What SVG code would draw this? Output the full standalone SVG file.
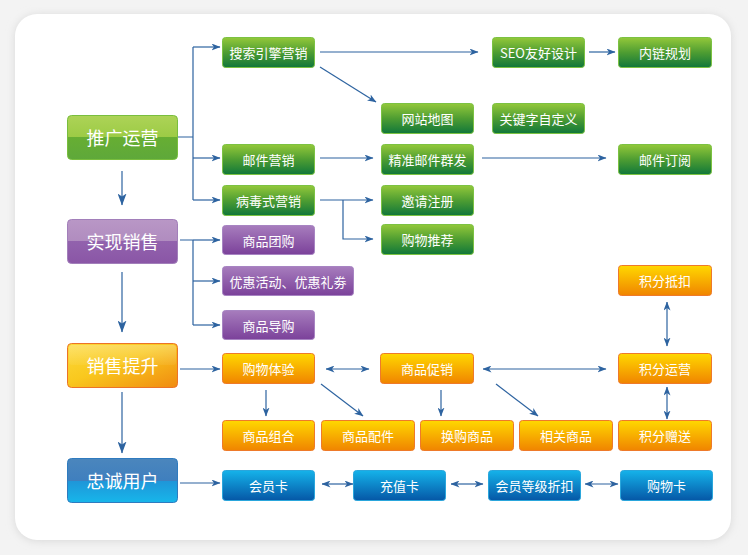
<svg xmlns="http://www.w3.org/2000/svg" width="748" height="555" viewBox="0 0 748 555">
<defs>
<style>
.t{font-family:"Noto Sans CJK SC","Noto Sans",sans-serif;fill:#fff;text-anchor:middle;dominant-baseline:central}
.s{font-size:13px}
.m{font-size:18px}
.c{stroke:#2d63a0;stroke-width:1.2;fill:none}
.gs{fill:url(#gS);stroke:#7cc242;stroke-width:1}
.ps{fill:url(#pS);stroke:#a784c2;stroke-width:1}
.os{fill:url(#oS);stroke:#ee7a2a;stroke-width:1}
.bs{fill:url(#bS);stroke:#2aa6dc;stroke-width:1}
</style>
<linearGradient id="gS" x1="0" y1="0" x2="0" y2="1"><stop offset="0" stop-color="#93c83a"/><stop offset="0.5" stop-color="#4e9d32"/><stop offset="1" stop-color="#10773a"/></linearGradient>
<linearGradient id="pS" x1="0" y1="0" x2="0" y2="1"><stop offset="0" stop-color="#a77dbd"/><stop offset="1" stop-color="#7b419a"/></linearGradient>
<linearGradient id="oS" x1="0" y1="0" x2="0" y2="1"><stop offset="0" stop-color="#ffd800"/><stop offset="1" stop-color="#f08400"/></linearGradient>
<linearGradient id="bS" x1="0" y1="0" x2="0" y2="1"><stop offset="0" stop-color="#15b3ea"/><stop offset="1" stop-color="#0557a6"/></linearGradient>
<linearGradient id="gM" x1="0" y1="0" x2="0" y2="1"><stop offset="0" stop-color="#add357"/><stop offset="0.5" stop-color="#9ccb45"/><stop offset="0.5" stop-color="#67ae33"/><stop offset="1" stop-color="#5ea83a"/></linearGradient>
<linearGradient id="pM" x1="0" y1="0" x2="0" y2="1"><stop offset="0" stop-color="#b997c6"/><stop offset="0.5" stop-color="#b08cbf"/><stop offset="0.5" stop-color="#9262ad"/><stop offset="1" stop-color="#8a56a6"/></linearGradient>
<linearGradient id="oM" x1="0" y1="0" x2="1" y2="1"><stop offset="0" stop-color="#fcd93a"/><stop offset="0.45" stop-color="#f9c81e"/><stop offset="1" stop-color="#f08a10"/></linearGradient>
<linearGradient id="bM" x1="0" y1="0" x2="0" y2="1"><stop offset="0" stop-color="#4b86bd"/><stop offset="0.5" stop-color="#3f7fbe"/><stop offset="0.5" stop-color="#1f95d8"/><stop offset="1" stop-color="#17b6ea"/></linearGradient>
<linearGradient id="gl" x1="0" y1="0" x2="0" y2="1"><stop offset="0" stop-color="#fff" stop-opacity="0.25"/><stop offset="1" stop-color="#fff" stop-opacity="0.05"/></linearGradient>
<filter id="sh" x="-5%" y="-5%" width="110%" height="110%"><feGaussianBlur stdDeviation="4"/></filter>
<marker id="a" viewBox="0 0 9 7" refX="8.5" refY="3.5" markerWidth="9" markerHeight="7" markerUnits="userSpaceOnUse" orient="auto-start-reverse"><path d="M0,0 L9,3.5 L0,7 L2.5,3.5 z" fill="#2d63a0"/></marker>
<marker id="A" viewBox="0 0 12 9" refX="11.5" refY="4.5" markerWidth="12" markerHeight="9" markerUnits="userSpaceOnUse" orient="auto-start-reverse"><path d="M0,0 L12,4.5 L0,9 L3,4.5 z" fill="#2d63a0"/></marker>
</defs>
<rect width="748" height="555" fill="#f3f3f3"/>
<rect x="15" y="15" width="716" height="526" rx="22" fill="#d8d8d8" filter="url(#sh)"/>
<rect x="15" y="14" width="716" height="526" rx="22" fill="#fff"/>

<g id="connectors">
<path class="c" d="M178,137 H193 M193,47 V200"/>
<path class="c" marker-end="url(#a)" d="M193,47 H220"/>
<path class="c" marker-end="url(#a)" d="M193,158 H220"/>
<path class="c" marker-end="url(#a)" d="M193,200 H220"/>
<path class="c" marker-end="url(#A)" d="M122,171 V205"/>
<path class="c" marker-end="url(#A)" d="M122,272 V332"/>
<path class="c" marker-end="url(#A)" d="M122,392 V453"/>
<path class="c" d="M180,240 H193 M193,240 V325"/>
<path class="c" marker-end="url(#a)" d="M193,240 H220"/>
<path class="c" marker-end="url(#a)" d="M193,281 H220"/>
<path class="c" marker-end="url(#a)" d="M193,325 H220"/>
<path class="c" marker-end="url(#a)" d="M320,52 H478"/>
<path class="c" marker-end="url(#a)" d="M320,67 L376,102"/>
<path class="c" marker-end="url(#a)" d="M589,52 H615"/>
<path class="c" marker-end="url(#a)" d="M320,158 H373"/>
<path class="c" marker-end="url(#a)" d="M482,158 H606"/>
<path class="c" marker-end="url(#a)" d="M320,200 H373"/>
<path class="c" marker-end="url(#a)" d="M343,200 V239 H373"/>
<path class="c" marker-end="url(#a)" d="M180,369 H220"/>
<path class="c" marker-start="url(#a)" marker-end="url(#a)" d="M326,369 H369"/>
<path class="c" marker-start="url(#a)" marker-end="url(#a)" d="M483,369 H606"/>
<path class="c" marker-start="url(#a)" marker-end="url(#a)" d="M667,302 V346"/>
<path class="c" marker-start="url(#a)" marker-end="url(#a)" d="M667,387 V419"/>
<path class="c" marker-end="url(#a)" d="M266,390 V416"/>
<path class="c" marker-end="url(#a)" d="M321,384 L363,416"/>
<path class="c" marker-end="url(#a)" d="M441,390 V416"/>
<path class="c" marker-end="url(#a)" d="M496,384 L538,416"/>
<path class="c" marker-end="url(#a)" d="M180,483 H220"/>
<path class="c" marker-start="url(#a)" marker-end="url(#a)" d="M322,484 H353"/>
<path class="c" marker-start="url(#a)" marker-end="url(#a)" d="M451,484 H483"/>
<path class="c" marker-start="url(#a)" marker-end="url(#a)" d="M585,484 H618"/>
</g>

<g id="n_tuiguang"><rect x="67.5" y="115.5" width="110" height="44" rx="4" fill="url(#gM)" stroke="#79be3e"/><text class="t m" x="122.5" y="137">推广运营</text></g>
<g id="n_shixian"><rect x="67.5" y="219.5" width="110" height="44" rx="4" fill="url(#pM)" stroke="#a27fba"/><text class="t m" x="122.5" y="241">实现销售</text></g>
<g id="n_tisheng"><rect x="67.5" y="343.5" width="110" height="44" rx="4" fill="url(#oM)" stroke="#ec7328"/><rect x="69" y="345" width="107" height="20" rx="3" fill="url(#gl)"/><text class="t m" x="122.5" y="365">销售提升</text></g>
<g id="n_zhongcheng"><rect x="67.5" y="458.5" width="110" height="44" rx="4" fill="url(#bM)" stroke="#2f7bbf"/><text class="t m" x="122.5" y="480">忠诚用户</text></g>

<g id="n_sousuo"><rect class="gs" x="222.5" y="37.5" width="92" height="30" rx="3"/><text class="t s" x="268.5" y="52.5">搜索引擎营销</text></g>
<g id="n_youjian"><rect class="gs" x="222.5" y="144.5" width="92" height="30" rx="3"/><text class="t s" x="268.5" y="159.5">邮件营销</text></g>
<g id="n_bingdu"><rect class="gs" x="222.5" y="185.5" width="92" height="30" rx="3"/><text class="t s" x="268.5" y="200.5">病毒式营销</text></g>
<g id="n_wangzhan"><rect class="gs" x="381.5" y="103.5" width="92" height="30" rx="3"/><text class="t s" x="427.5" y="118.5">网站地图</text></g>
<g id="n_jingzhun"><rect class="gs" x="381.5" y="144.5" width="92" height="30" rx="3"/><text class="t s" x="427.5" y="159.5">精准邮件群发</text></g>
<g id="n_yaoqing"><rect class="gs" x="381.5" y="185.5" width="92" height="30" rx="3"/><text class="t s" x="427.5" y="200.5">邀请注册</text></g>
<g id="n_tuijian"><rect class="gs" x="381.5" y="224.5" width="92" height="30" rx="3"/><text class="t s" x="427.5" y="239.5">购物推荐</text></g>
<g id="n_seo"><rect class="gs" x="492.5" y="37.5" width="92" height="30" rx="3"/><text class="t s" x="538.5" y="52.5">SEO友好设计</text></g>
<g id="n_guanjianzi"><rect class="gs" x="492.5" y="103.5" width="92" height="30" rx="3"/><text class="t s" x="538.5" y="118.5">关键字自定义</text></g>
<g id="n_neilian"><rect class="gs" x="618.5" y="37.5" width="93" height="30" rx="3"/><text class="t s" x="665" y="52.5">内链规划</text></g>
<g id="n_dingyue"><rect class="gs" x="618.5" y="144.5" width="93" height="30" rx="3"/><text class="t s" x="665" y="159.5">邮件订阅</text></g>

<g id="n_tuangou"><rect class="ps" x="222.5" y="225.5" width="92" height="29" rx="3"/><text class="t s" x="268.5" y="240">商品团购</text></g>
<g id="n_youhui"><rect class="ps" x="222.5" y="266.5" width="131" height="29" rx="3"/><text class="t s" x="288" y="281">优惠活动、优惠礼劵</text></g>
<g id="n_daogou"><rect class="ps" x="222.5" y="310.5" width="92" height="29" rx="3"/><text class="t s" x="268.5" y="325">商品导购</text></g>

<g id="n_tiyan"><rect class="os" x="222.5" y="353.5" width="92" height="30" rx="3"/><text class="t s" x="268.5" y="368.5">购物体验</text></g>
<g id="n_cuxiao"><rect class="os" x="380.5" y="353.5" width="93" height="30" rx="3"/><text class="t s" x="427" y="368.5">商品促销</text></g>
<g id="n_dikou"><rect class="os" x="618.5" y="265.5" width="93" height="30" rx="3"/><text class="t s" x="665" y="280.5">积分抵扣</text></g>
<g id="n_jifen"><rect class="os" x="618.5" y="353.5" width="93" height="30" rx="3"/><text class="t s" x="665" y="368.5">积分运营</text></g>
<g id="n_zuhe"><rect class="os" x="222.5" y="420.5" width="92" height="30" rx="3"/><text class="t s" x="268.5" y="435.5">商品组合</text></g>
<g id="n_peijian"><rect class="os" x="321.5" y="420.5" width="93" height="30" rx="3"/><text class="t s" x="368" y="435.5">商品配件</text></g>
<g id="n_huangou"><rect class="os" x="420.5" y="420.5" width="93" height="30" rx="3"/><text class="t s" x="467" y="435.5">换购商品</text></g>
<g id="n_xiangguan"><rect class="os" x="519.5" y="420.5" width="93" height="30" rx="3"/><text class="t s" x="566" y="435.5">相关商品</text></g>
<g id="n_zengsong"><rect class="os" x="618.5" y="420.5" width="93" height="30" rx="3"/><text class="t s" x="665" y="435.5">积分赠送</text></g>

<g id="n_huiyuanka"><rect class="bs" x="222.5" y="470.5" width="92" height="30" rx="3"/><text class="t s" x="268.5" y="485.5">会员卡</text></g>
<g id="n_chongzhi"><rect class="bs" x="353.5" y="470.5" width="92" height="30" rx="3"/><text class="t s" x="399.5" y="485.5">充值卡</text></g>
<g id="n_dengji"><rect class="bs" x="488.5" y="470.5" width="92" height="30" rx="3"/><text class="t s" x="534.5" y="485.5">会员等级折扣</text></g>
<g id="n_gouwuka"><rect class="bs" x="620.5" y="470.5" width="92" height="30" rx="3"/><text class="t s" x="666.5" y="485.5">购物卡</text></g>
</svg>
